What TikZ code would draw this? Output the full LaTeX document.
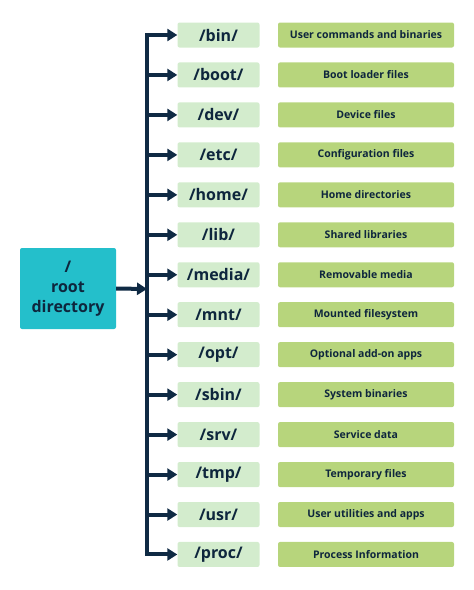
\documentclass[tikz,border=0pt]{standalone}
\usepackage{fontspec}
\setmainfont{Open Sans}
\usetikzlibrary{arrows.meta}
\definecolor{navy}{HTML}{0F2A44}
\definecolor{teal}{HTML}{24BFCB}
\definecolor{lgreen}{HTML}{D3ECCD}
\definecolor{dgreen}{HTML}{B7D57C}
\tikzset{
  x=1pt,y=-1pt,
  dirbox/.style={fill=lgreen,rounded corners=2pt,minimum width=82pt,minimum height=25pt,inner sep=0pt,
    font=\fontsize{16}{18}\selectfont\bfseries,text=navy!90!black},
  descbox/.style={fill=dgreen,rounded corners=2pt,minimum width=176pt,minimum height=25pt,inner sep=0pt,
    font=\fontsize{10.5}{12}\selectfont\bfseries,text=navy!90!black},
  rootbox/.style={fill=teal,rounded corners=2pt,minimum width=96pt,minimum height=81pt,inner sep=0pt,align=center,
    font=\fontsize{16}{20}\selectfont\bfseries,text=navy!90!black},
  conn/.style={draw=navy,line width=4pt},
  arr/.style={conn,-{Triangle[length=10pt,width=12pt]}},
}
\begin{document}
\begin{tikzpicture}
\useasboundingbox (0,0) rectangle (474,590);
\node[rootbox] (root) at (68,288.5) {/\\root\\directory};
\coordinate (jn) at (147,289);
\coordinate (top) at (147,35);
\coordinate (bot) at (147,554.5);
\draw[conn,line cap=butt] ([yshift=-2pt]top) -- ([yshift=2pt]bot);
\draw[arr,shorten >=0pt] (root.east) -- (jn);
\foreach \i/\d/\t in {0/bin/User commands and binaries,1/boot/Boot loader files,2/dev/Device files,3/etc/Configuration files,4/home/Home directories,5/lib/Shared libraries,6/media/Removable media,7/mnt/Mounted filesystem,8/opt/Optional add-on apps,9/sbin/System binaries,10/srv/Service data,11/tmp/Temporary files,12/usr/User utilities and apps,13/proc/Process Information}{
  \pgfmathsetmacro{\yy}{35+\i*39.96}
  \node[dirbox] (d\i) at (218.5,\yy) {/\d/};
  \node[descbox] (e\i) at (366,\yy) {\t};
  \coordinate (c\i) at (145,\yy);
  \draw[arr] (c\i) -- (d\i.west);
}
\end{tikzpicture}
\end{document}
